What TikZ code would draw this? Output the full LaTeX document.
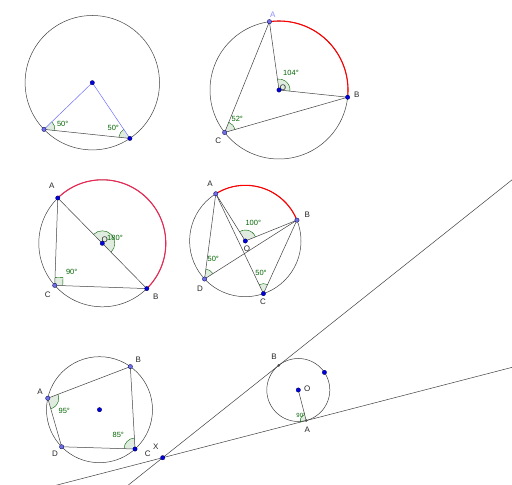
\documentclass[tikz,border=0pt]{standalone}
\usepackage{fontspec}
\setmainfont{Liberation Sans}
\usetikzlibrary{calc,angles}
\definecolor{ggreen}{RGB}{0,100,0}
\definecolor{lpt}{RGB}{110,110,230}
\definecolor{dpt}{RGB}{0,0,225}
\definecolor{lblue}{RGB}{110,110,255}
\definecolor{pinkred}{RGB}{235,40,85}
\definecolor{lavender}{RGB}{140,140,255}
\tikzset{
  circ/.style={draw=black!75, line width=0.5pt},
  seg/.style={draw=black!75, line width=0.5pt},
  bseg/.style={draw=lblue, line width=0.5pt},
  arcred/.style={draw=red, line width=1.1pt},
  arcpink/.style={draw=pinkred, line width=1.1pt},
  dk/.style={fill=dpt, draw=blue!30!black, line width=0.3pt},
  lt/.style={fill=lpt, draw=blue!30!black, line width=0.3pt},
  gr/.style={fill=black!70},
  ang/.style={draw=ggreen, fill=ggreen, fill opacity=0.12, draw opacity=1, line width=0.4pt, angle radius=11pt},
  albl/.style={text=ggreen, font=\fontsize{7.5}{8}\selectfont, inner sep=0pt},
  lbl/.style={text=black!85, font=\fontsize{8}{9}\selectfont, inner sep=0pt},
}
\begin{document}
\begin{tikzpicture}[x=1pt,y=1pt]
\useasboundingbox (0,0) rectangle (512,485);

% ---------- circle 1 ----------
\coordinate (c1o) at (92.3,402.3);
\coordinate (c1p) at ($(c1o)+(224:67.2)$);
\coordinate (c1q) at ($(c1o)+(304:67.2)$);
\draw[circ] (c1o) circle (67.2);
\pic[ang] {angle = c1q--c1p--c1o};
\pic[ang] {angle = c1o--c1q--c1p};
\draw[bseg] (c1o) -- (c1p);
\draw[bseg] (c1o) -- (c1q);
\draw[seg] (c1p) -- (c1q);
\node[albl] (c1a1) at (62.7,360.7) {50°};
\node[albl] (c1a2) at (113.3,356.7) {50°};
\filldraw[dk] (c1o) circle (2.2);
\filldraw[lt] (c1p) circle (2.2);
\filldraw[dk] (c1q) circle (2.2);

% ---------- circle 2 ----------
\coordinate (c2o) at (279,395);
\coordinate (c2a) at ($(c2o)+(98:69)$);
\coordinate (c2b) at ($(c2o)+(-6:69)$);
\coordinate (c2c) at ($(c2o)+(218:69)$);
\draw[circ] (c2o) circle (69);
\draw[arcred] (c2a) arc[start angle=98, end angle=-6, radius=69];
\pic[ang] {angle = c2b--c2o--c2a};
\pic[ang] {angle = c2b--c2c--c2a};
\draw[seg] (c2a) -- (c2o);
\draw[seg] (c2o) -- (c2b);
\draw[seg] (c2a) -- (c2c);
\draw[seg] (c2c) -- (c2b);
\node[lbl, text=lavender] (c2la) at (272.7,470) {A};
\node[lbl] (c2lb) at (356.7,390) {B};
\node[lbl] (c2lc) at (218.3,344.3) {C};
\node[lbl] (c2lo) at (283,397.5) {O};
\node[albl] (c2a1) at (291,411.7) {104°};
\node[albl] (c2a2) at (237.3,366) {52°};
\filldraw[lt] (c2a) circle (2.2);
\filldraw[dk] (c2b) circle (2.2);
\filldraw[lt] (c2c) circle (2.2);
\filldraw[dk] (c2o) circle (2.2);

% ---------- circle 3 ----------
\coordinate (c3o) at (102.3,241.7);
\coordinate (c3a) at ($(c3o)+(134.5:63.5)$);
\coordinate (c3b) at ($(c3o)+(-45.5:63.5)$);
\coordinate (c3c) at ($(c3o)+(221.5:63.5)$);
\draw[circ] (c3o) circle (63.5);
\draw[arcpink] (c3a) arc[start angle=134.5, end angle=-45.5, radius=63.5];
\pic[ang, angle radius=12.5pt] {angle = c3b--c3o--c3a};
\pic[draw=ggreen, fill=ggreen, fill opacity=0.12, line width=0.4pt, angle radius=8pt] {right angle = c3a--c3c--c3b};
\draw[seg] (c3a) -- (c3b);
\draw[seg] (c3a) -- (c3c);
\draw[seg] (c3c) -- (c3b);
\node[lbl] (c3la) at (51.7,299) {A};
\node[lbl] (c3lb) at (155.7,188.3) {B};
\node[lbl] (c3lc) at (47.7,190) {C};
\node[lbl] (c3lo) at (104.8,245) {O};
\node[albl] (c3a1) at (115,247.5) {180°};
\node[albl] (c3a2) at (71.7,213.3) {90°};
\filldraw[dk] (c3a) circle (2.2);
\filldraw[dk] (c3b) circle (2.2);
\filldraw[lt] (c3c) circle (2.2);
\filldraw[dk] (c3o) circle (2.2);

% ---------- circle 4 ----------
\coordinate (c4o) at (245.3,244);
\coordinate (c4a) at ($(c4o)+(122:55.7)$);
\coordinate (c4b) at ($(c4o)+(22:55.7)$);
\coordinate (c4c) at ($(c4o)+(289:55.7)$);
\coordinate (c4d) at ($(c4o)+(223:55.7)$);
\draw[circ] (c4o) circle (55.7);
\draw[arcred] (c4a) arc[start angle=122, end angle=22, radius=55.7];
\pic[ang] {angle = c4b--c4o--c4a};
\pic[ang, angle radius=10pt] {angle = c4b--c4d--c4a};
\pic[ang, angle radius=10pt] {angle = c4b--c4c--c4a};
\draw[seg] (c4a) -- (c4d);
\draw[seg] (c4a) -- (c4c);
\draw[seg] (c4a) -- (c4o);
\draw[seg] (c4o) -- (c4b);
\draw[seg] (c4b) -- (c4d);
\draw[seg] (c4b) -- (c4c);
\node[lbl] (c4la) at (210,301) {A};
\node[lbl] (c4lb) at (307.3,270) {B};
\node[lbl] (c4lc) at (263,183.3) {C};
\node[lbl] (c4ld) at (200,196.7) {D};
\node[lbl] (c4lo) at (247,236.7) {O};
\node[albl] (c4a1) at (253.3,262.3) {100°};
\node[albl] (c4a2) at (213.3,225.7) {50°};
\node[albl] (c4a3) at (261,212.3) {50°};
\filldraw[lt] (c4a) circle (2.2);
\filldraw[lt] (c4b) circle (2.2);
\filldraw[dk] (c4c) circle (2.2);
\filldraw[lt] (c4d) circle (2.2);
\filldraw[dk] (c4o) circle (2.2);

% ---------- circle 5 ----------
\coordinate (c5o) at (99.5,75.3);
\coordinate (c5a) at ($(c5o)+(167.5:53)$);
\coordinate (c5b) at ($(c5o)+(54.4:53)$);
\coordinate (c5c) at ($(c5o)+(312.1:53)$);
\coordinate (c5d) at ($(c5o)+(224.4:53)$);
\draw[circ] (c5o) circle (53);
\pic[ang] {angle = c5d--c5a--c5b};
\pic[ang] {angle = c5b--c5c--c5d};
\draw[seg] (c5a) -- (c5b);
\draw[seg] (c5b) -- (c5c);
\draw[seg] (c5c) -- (c5d);
\draw[seg] (c5d) -- (c5a);
\node[lbl] (c5la) at (40,93.3) {A};
\node[lbl] (c5lb) at (138.3,125.7) {B};
\node[lbl] (c5lc) at (147.7,31.7) {C};
\node[lbl] (c5ld) at (55,31.7) {D};
\node[albl] (c5a1) at (64.3,74.3) {95°};
\node[albl] (c5a2) at (118.3,50) {85°};
\filldraw[lt] (c5a) circle (2.2);
\filldraw[lt] (c5b) circle (2.2);
\filldraw[dk] (c5c) circle (2.2);
\filldraw[lt] (c5d) circle (2.2);
\filldraw[dk] (c5o) circle (2.2);

% ---------- tangent circle ----------
\coordinate (tx) at (162.7,27.3);
\coordinate (to) at (298.3,95);
\coordinate (tb) at ($(tx)+(38.5:148.25)$);
\coordinate (ta) at ($(tx)+(14.5:148.25)$);
\coordinate (tp) at ($(to)+(34:31.5)$);
\coordinate (l1s) at ($(tx)!-0.3!(tb)$);
\coordinate (l1e) at ($(tx)!3.05!(tb)$);
\coordinate (l2s) at ($(tx)!-0.8!(ta)$);
\coordinate (l2e) at ($(tx)!2.45!(ta)$);
\begin{scope}
\clip (0,0) rectangle (512,485);
\draw[seg] (l1s) -- (l1e);
\draw[seg] (l2s) -- (l2e);
\end{scope}
\draw[circ] (to) circle (31.5);
\pic[ang, angle radius=6pt] {angle = to--ta--tx};
\draw[seg] (to) -- (ta);
\node[lbl] (tlx) at (155.7,38.3) {X};
\node[lbl] (tlb) at (274,128) {B};
\node[lbl] (tlo) at (307.3,96.7) {O};
\node[lbl] (tla) at (307.3,55.7) {A};
\node[albl, font=\fontsize{6}{7}\selectfont] (ta1) at (301,70) {90°};
\filldraw[dk] (tx) circle (2.2);
\filldraw[dk] (to) circle (2.2);
\filldraw[dk] (tp) circle (2.2);
\fill[gr] (tb) circle (1.4);
\fill[gr] (ta) circle (1.4);
\end{tikzpicture}
\end{document}
